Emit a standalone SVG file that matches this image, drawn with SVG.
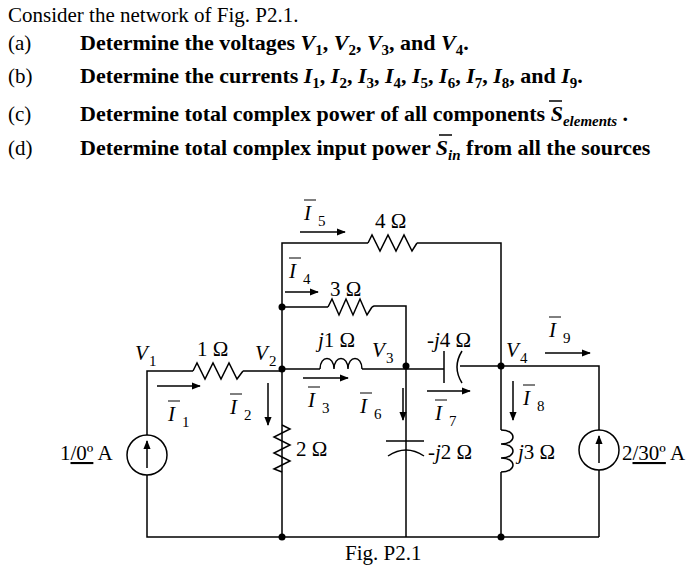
<svg xmlns="http://www.w3.org/2000/svg" width="699" height="570" viewBox="0 0 699 570">
<defs>
<marker id="ah" viewBox="0 0 10 10" refX="9" refY="5" markerWidth="9" markerHeight="9" markerUnits="userSpaceOnUse" orient="auto"><path d="M0,1 L10,5 L0,9 z" fill="#000"/></marker>
</defs>
<style>
text{font-family:"Liberation Serif",serif;font-size:21px;fill:#000}
#problem text{font-size:21px}
#problem .b{font-size:22px}
.b{font-weight:bold}
.i{font-style:italic}
#problem .s,.s{font-size:15px}
.w{fill:none;stroke:#000;stroke-width:1.5}
.a{stroke:#000;stroke-width:1.5;marker-end:url(#ah)}
</style>
<rect width="699" height="570" fill="#fff"/>
<g id="problem">
<text x="8" y="22">Consider the network of Fig. P2.1.</text>
<text x="8" y="50">(a)</text><text x="80" y="50" class="b">Determine the voltages <tspan class="i">V</tspan><tspan class="s" dy="5">1</tspan><tspan dy="-5">, </tspan><tspan class="i">V</tspan><tspan class="s" dy="5">2</tspan><tspan dy="-5">, </tspan><tspan class="i">V</tspan><tspan class="s" dy="5">3</tspan><tspan dy="-5">, and </tspan><tspan class="i">V</tspan><tspan class="s" dy="5">4</tspan><tspan dy="-5">.</tspan></text>
<text x="8" y="83">(b)</text><text x="80" y="83" class="b">Determine the currents <tspan class="i">I</tspan><tspan class="s" dy="5">1</tspan><tspan dy="-5">, </tspan><tspan class="i">I</tspan><tspan class="s" dy="5">2</tspan><tspan dy="-5">, </tspan><tspan class="i">I</tspan><tspan class="s" dy="5">3</tspan><tspan dy="-5">, </tspan><tspan class="i">I</tspan><tspan class="s" dy="5">4</tspan><tspan dy="-5">, </tspan><tspan class="i">I</tspan><tspan class="s" dy="5">5</tspan><tspan dy="-5">, </tspan><tspan class="i">I</tspan><tspan class="s" dy="5">6</tspan><tspan dy="-5">, </tspan><tspan class="i">I</tspan><tspan class="s" dy="5">7</tspan><tspan dy="-5">, </tspan><tspan class="i">I</tspan><tspan class="s" dy="5">8</tspan><tspan dy="-5">, and </tspan><tspan class="i">I</tspan><tspan class="s" dy="5">9</tspan><tspan dy="-5">.</tspan></text>
<text x="8" y="121">(c)</text><text x="80" y="121" class="b">Determine total complex power of all components <tspan class="i">S</tspan><tspan class="i s" dy="5">elements</tspan><tspan dy="-5"> .</tspan></text>
<text x="8" y="155">(d)</text><text x="80" y="155" class="b">Determine total complex input power <tspan class="i">S</tspan><tspan class="i s" dy="5">in</tspan><tspan dy="-5"> from all the sources</tspan></text>
<line x1="549" y1="101" x2="562" y2="101" stroke="#000" stroke-width="1.5"/>
<line x1="439" y1="135" x2="452" y2="135" stroke="#000" stroke-width="1.5"/>
</g>
<g id="connectors">
<path class="w" d="M147,435 V371 H193 M243,371 H282 V537 M147,475 V537 H599 M282,425 V243 H368 M417,243 H501 V366 M282,307 H328 M372,307 L374,306 H406 V537 M282,369 H320 M362,369 H406 H444 M460,366 H501 V430 M501,472 V537 M501,366 H599 V430 M599,470 V537"/>
</g>
<g id="R1"><path class="w" d="M193,371 l4,-8 l8,16 l8,-16 l8,16 l8,-16 l8,16 l6,-8"/></g>
<g id="R2"><path class="w" d="M282,425 l8,4 l-16,8 l16,8 l-16,8 l16,8 l-16,8 l8,3"/></g>
<g id="R3"><path class="w" d="M328,307 l4,-8 l7,16 l7,-16 l7,16 l7,-16 l7,16 l5,-8"/></g>
<g id="R4"><path class="w" d="M368,243 l4,-8 l8,16 l8,-16 l8,16 l8,-16 l8,16 l5,-8"/></g>
<g id="L1"><path class="w" d="M320,369 c0,-14 14,-14 14,0 c0,-14 14,-14 14,0 c0,-14 14,-14 14,0"/></g>
<g id="C4"><line x1="444" y1="351" x2="444" y2="383" stroke="#000" stroke-width="1.5"/><path class="w" d="M462,351 q-10,16 0,32"/></g>
<g id="C2"><line x1="386" y1="441" x2="424" y2="441" stroke="#000" stroke-width="1.5"/><path class="w" d="M388,456 q18,-12 36,0"/></g>
<g id="L3"><path class="w" d="M501,430 c16,0 16,14 0,14 c16,0 16,14 0,14 c16,0 16,14 0,14"/></g>
<g id="S1"><circle cx="147" cy="455" r="20" fill="#fff" stroke="#000" stroke-width="1.5"/><line class="a" x1="147" y1="468" x2="147" y2="441"/></g>
<g id="S2"><circle cx="599" cy="450" r="20" fill="#fff" stroke="#000" stroke-width="1.5"/><line class="a" x1="599" y1="463" x2="599" y2="436"/></g>
<g id="dots" fill="#000">
<circle cx="282" cy="307" r="3.5"/><circle cx="282" cy="369" r="3.5"/><circle cx="406" cy="366" r="3.5"/><circle cx="501" cy="366" r="3.5"/><circle cx="282" cy="537" r="3.5"/><circle cx="501" cy="537" r="3.5"/>
</g>
<g id="arrows">
<line class="a" x1="300" y1="232" x2="345" y2="232"/>
<line class="a" x1="285" y1="292" x2="318" y2="292"/>
<line class="a" x1="157" y1="386" x2="200" y2="386"/>
<line class="a" x1="268" y1="383" x2="268" y2="425"/>
<line class="a" x1="303" y1="378" x2="348" y2="378"/>
<line class="a" x1="403" y1="388" x2="403" y2="420"/>
<line class="a" x1="427" y1="391" x2="470" y2="391"/>
<line class="a" x1="513" y1="381" x2="513" y2="420"/>
<line class="a" x1="545" y1="353" x2="590" y2="353"/>
</g>
<g id="labels">
<text x="304" y="220" class="i">I</text><text x="318" y="226" class="s">5</text><line x1="304" y1="200" x2="316" y2="200" stroke="#000"/>
<text x="289" y="278" class="i">I</text><text x="303" y="284" class="s">4</text><line x1="289" y1="258" x2="301" y2="258" stroke="#000"/>
<text x="168" y="421" class="i">I</text><text x="182" y="427" class="s">1</text><line x1="168" y1="401" x2="180" y2="401" stroke="#000"/>
<text x="230" y="414" class="i">I</text><text x="244" y="420" class="s">2</text><line x1="230" y1="394" x2="242" y2="394" stroke="#000"/>
<text x="308" y="407" class="i">I</text><text x="322" y="413" class="s">3</text><line x1="308" y1="387" x2="320" y2="387" stroke="#000"/>
<text x="360" y="413" class="i">I</text><text x="374" y="419" class="s">6</text><line x1="360" y1="393" x2="372" y2="393" stroke="#000"/>
<text x="435" y="420" class="i">I</text><text x="449" y="426" class="s">7</text><line x1="435" y1="400" x2="447" y2="400" stroke="#000"/>
<text x="523" y="405" class="i">I</text><text x="537" y="411" class="s">8</text><line x1="523" y1="385" x2="535" y2="385" stroke="#000"/>
<text x="549" y="337" class="i">I</text><text x="563" y="343" class="s">9</text><line x1="549" y1="317" x2="561" y2="317" stroke="#000"/>
<text x="135" y="360" class="i">V</text><text x="149" y="366" class="s">1</text>
<text x="255" y="360" class="i">V</text><text x="269" y="366" class="s">2</text>
<text x="372" y="357" class="i">V</text><text x="386" y="363" class="s">3</text>
<text x="506" y="357" class="i">V</text><text x="520" y="363" class="s">4</text>
<text x="197" y="356">1 Ω</text>
<text x="330" y="296">3 Ω</text>
<text x="375" y="228">4 Ω</text>
<text x="318" y="347"><tspan class="i">j</tspan>1 Ω</text>
<text x="427" y="347">-<tspan class="i">j</tspan>4 Ω</text>
<text x="296" y="456">2 Ω</text>
<text x="428" y="459">-<tspan class="i">j</tspan>2 Ω</text>
<text x="518" y="459"><tspan class="i">j</tspan>3 Ω</text>
<text x="60" y="460">1<tspan text-decoration="underline">/0º</tspan> A</text>
<text x="622" y="460">2<tspan text-decoration="underline">/30º</tspan> A</text>
<text x="345" y="560">Fig. P2.1</text>
</g>
</svg>
